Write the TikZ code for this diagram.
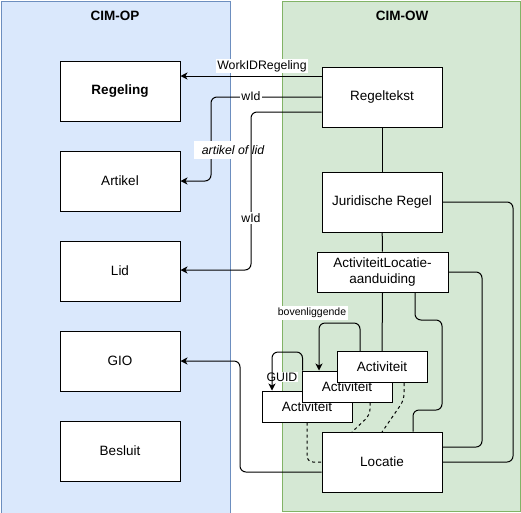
\documentclass[tikz,border=0pt]{standalone}
\usepackage{fontspec}
\setmainfont{Liberation Sans}
\usetikzlibrary{arrows.meta}
\definecolor{opfill}{HTML}{DAE8FC}
\definecolor{opline}{HTML}{6C8EBF}
\definecolor{owfill}{HTML}{D5E8D4}
\definecolor{owline}{HTML}{82B366}
\tikzset{
  box/.style={draw=black, fill=white, line width=1pt, minimum width=120pt, minimum height=60pt, inner sep=0pt, align=center, font=\fontsize{13.5}{16}\selectfont},
  abox/.style={box, minimum width=90pt, minimum height=31pt},
  conn/.style={draw=black, line width=1pt, rounded corners=6pt},
  arr/.style={conn, -{Stealth[length=7pt,width=7pt,inset=2pt]}},
  dconn/.style={conn, dash pattern=on 3pt off 3pt},
  elabel/.style={fill=white, inner sep=1pt, font=\fontsize{12.3}{14}\selectfont},
  title/.style={font=\bfseries\fontsize{13.5}{16}\selectfont},
}
\begin{document}
\begin{tikzpicture}[x=1pt,y=-1pt]
\useasboundingbox (0,0) rectangle (521,512);
% panels
\draw[fill=opfill, draw=opline, line width=1pt] (1,1) rectangle (230,514);
\draw[fill=owfill, draw=owline, line width=1pt] (282.5,1) rectangle (520,511);
\node[title] (op) at (115,16) {CIM-OP};
\node[title] (ow) at (402,16) {CIM-OW};
% left boxes
\node[box, font=\bfseries\fontsize{13.5}{16}\selectfont] (reg) at (120,91) {Regeling};
\node[box] (art) at (120,181) {Artikel};
\node[box] (lid) at (120,271) {Lid};
\node[box] (gio) at (120,361) {GIO};
\node[box] (bes) at (120,451) {Besluit};
% right boxes
\node[box] (rt) at (382,97) {Regeltekst};
\node[box] (jr) at (382,202) {Juridische Regel};
\node[box, minimum width=131pt, minimum height=40pt] (ala) at (382.5,272) {ActiviteitLocatie-\\aanduiding};
\node[box] (loc) at (382,462) {Locatie};
% connectors Regeltekst -> OP
\draw[arr] (rt.west |- 0,76) -- (reg.east |- 0,76);
\node[elabel] (lwork) at (262,66) {WorkIDRegeling};
\draw[arr] (rt.west |- 0,97) -- (211,97) -- (211,181) -- (art.east);
\node[elabel] (lwid1) at (251,96) {wId};
\node[elabel, font=\itshape\fontsize{12.3}{14}\selectfont, inner xsep=8pt, inner ysep=4pt] (lart) at (233,150) {artikel of lid};
\draw[arr] (rt.west |- 0,112) -- (251,112) -- (251,270) -- (lid.east |- 0,270);
\node[elabel] (lwid2) at (251,218) {wId};
% vertical chain
\draw[conn] (rt) -- (jr);
\draw[conn] (jr) -- (ala);
% right side lines
\draw[conn] (jr.east) -- (513,202) -- (513,462) -- (loc.east);
\draw[conn] (ala.east) -- (482,272) -- (482,447) -- (loc.east |- 0,447);
\draw[conn] (ala.south -| 415,0) -- (415,320) -- (442,320) -- (442,410) -- (413,410) -- (loc.north -| 413,0);
% Locatie -> GIO
\draw[arr] (loc.west |- 0,472) -- (240,472) -- (240,361) -- (gio.east);
% Activiteit boxes
\node[abox] (a3) at (307,406.5) {Activiteit};
\node[abox] (a2) at (347,386.5) {Activiteit};
\node[abox] (a1) at (382,367) {Activiteit};
\draw[conn] (ala.south) -- (a1.north);
\node[elabel, font=\fontsize{10.5}{12}\selectfont, inner sep=2pt] (lbov) at (312,313) {bovenliggende};
\draw[arr] (a1.north -| 360,0) -- (360,323) -- (319,323) -- (a2.north -| 319,0);
\node[elabel] (lguid) at (282,377) {GUID};
\draw[arr] (a2.north -| 302.5,0) -- (302.5,352) -- (272,352) -- (a3.north -| 272,0);
% dashed to Locatie
\draw[dconn] (a3.south -| 307,0) -- (307,462) -- (loc.west);
\draw[dconn] (a2.south -| 370,0) -- (370,415) -- (352,432);
\draw[dconn] (a1.south -| 404,0) -- (404,400) -- (382,432);
\end{tikzpicture}
\end{document}
